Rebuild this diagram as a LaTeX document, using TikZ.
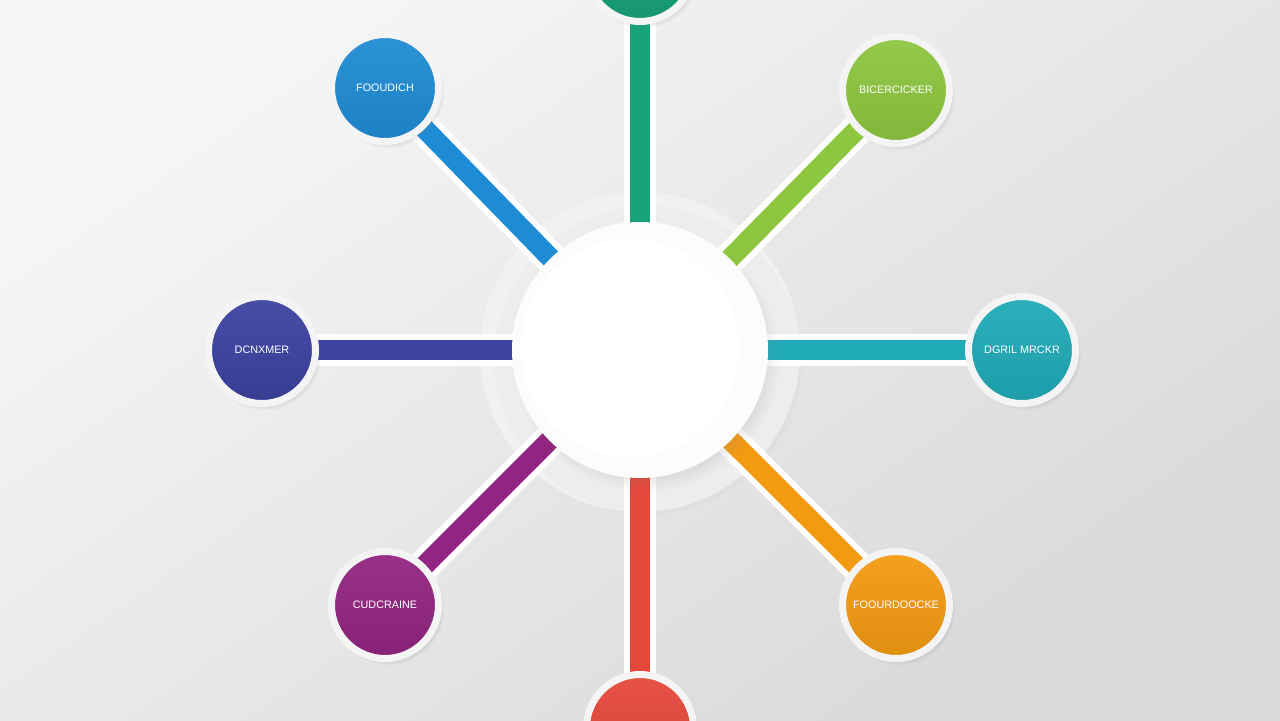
\documentclass[tikz,border=0pt]{standalone}
\usepackage{fontspec}
\setmainfont{Liberation Sans}
\usetikzlibrary{shadows}
\pgfdeclarelayer{bg}
\pgfdeclarelayer{lines}
\pgfsetlayers{bg,lines,main}
\definecolor{cBlue}{HTML}{1E8CD4}
\definecolor{cLime}{HTML}{8DC63F}
\definecolor{cIndigo}{HTML}{3C42A0}
\definecolor{cTeal}{HTML}{20AAB8}
\definecolor{cPurple}{HTML}{922582}
\definecolor{cOrange}{HTML}{F39A12}
\definecolor{cGreen}{HTML}{17A27A}
\definecolor{cRed}{HTML}{E5473A}
\definecolor{bgA}{HTML}{F6F6F6}
\definecolor{bgB}{HTML}{D9D9D9}
\definecolor{ringC}{HTML}{F4F4F4}
\begin{document}
\begin{tikzpicture}[x=0.5pt,y=-0.5pt,
  sat/.style={circle, draw=ringC, line width=3.5pt, minimum size=53.5pt, inner sep=0pt,
    text=white, font=\fontsize{5.4}{6}\selectfont,
    circular drop shadow={shadow xshift=1.5pt, shadow yshift=-2pt, shadow scale=1.05, opacity=0.3},
    top color=#1!94!white, bottom color=#1!92!black},
  barw/.style={line width=16pt, white!97!bgB},
  barc/.style={line width=10pt, #1}]
\useasboundingbox (0,0) rectangle (1280,720);
\begin{pgfonlayer}{bg}
  \shade[shading=axis, top color=bgA, bottom color=bgB, shading angle=35] (0,0) rectangle (1280,720);
  \shade[inner color=white!72!bgB, outer color=white!62!bgB] (640,352) circle[radius=160];
  \fill[black, opacity=0.015] (648,360) circle[radius=154];
\end{pgfonlayer}
% satellites
\node[sat=cGreen]  (s1) at (640,-32) {};
\node[sat=cLime]   (s2) at (896,90)  {BICERCICKER};
\node[sat=cTeal]   (s3) at (1022,350) {DGRIL MRCKR};
\node[sat=cOrange] (s4) at (896,605) {FOOURDOOCKE};
\node[sat=cRed]    (s5) at (640,728) {};
\node[sat=cPurple] (s6) at (385,605) {CUDCRAINE};
\node[sat=cIndigo] (s7) at (262,350) {DCNXMER};
\node[sat=cBlue]   (s8) at (385,88)  {FOOUDICH};
% centre
\node[circle, minimum size=128pt, inner sep=0pt, fill=white!92!bgB,
  circular drop shadow={shadow xshift=3pt, shadow yshift=-4pt, shadow scale=1.04, opacity=0.2}] (c) at (640,350) {};
\fill[white] (630,348) circle[radius=109];
% connectors
\begin{pgfonlayer}{lines}
  \foreach \s/\col in {s1/cGreen,s2/cLime,s3/cTeal,s4/cOrange,s5/cRed,s6/cPurple,s7/cIndigo,s8/cBlue}{
    \draw[barw] (c.center) -- (\s.center);
    \draw[barc=\col] (c.center) -- (\s.center);
  }
\end{pgfonlayer}
\end{tikzpicture}
\end{document}
